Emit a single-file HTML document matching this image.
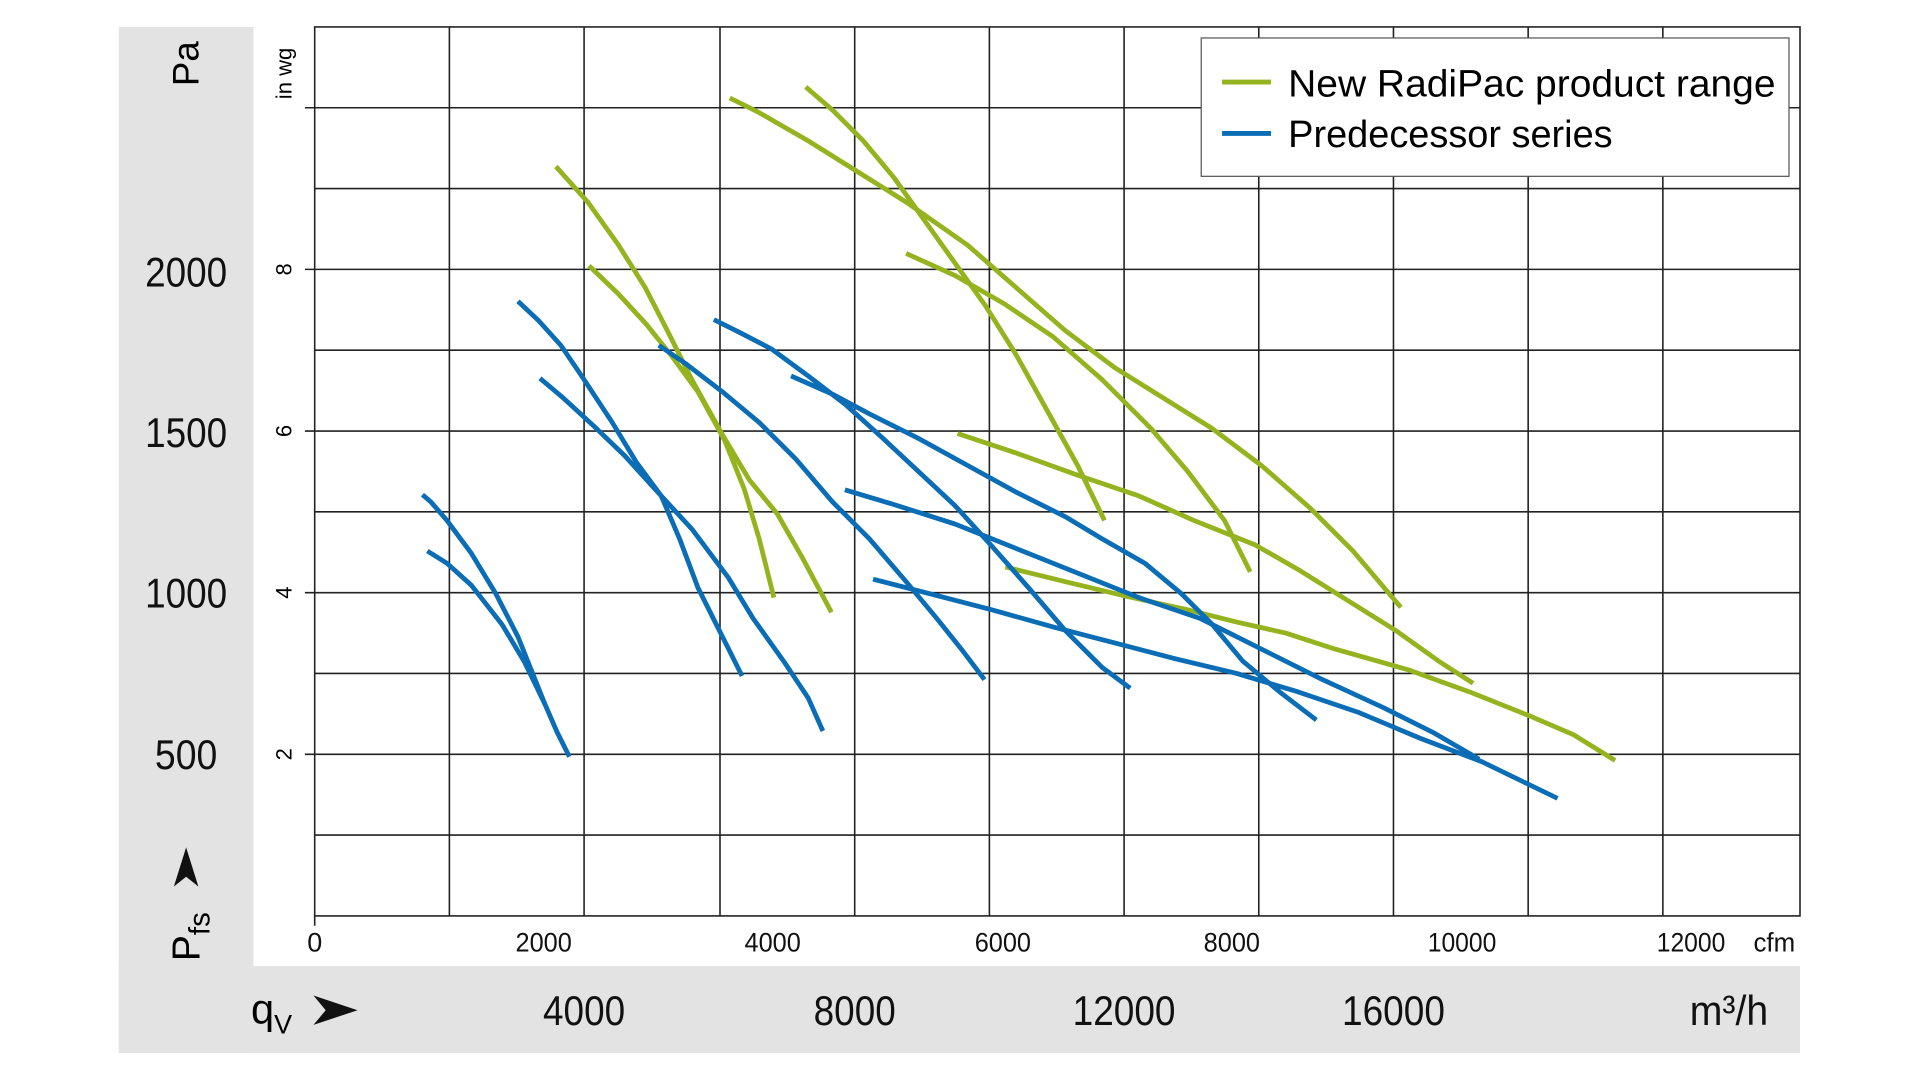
<!DOCTYPE html>
<html><head><meta charset="utf-8"><style>
html,body{margin:0;padding:0;background:#fff;width:1920px;height:1080px;overflow:hidden}
svg{display:block}
text{font-family:"Liberation Sans Narrow","Liberation Sans",sans-serif}
</style></head><body>
<svg width="1920" height="1080" viewBox="0 0 1568 882" preserveAspectRatio="none" xmlns="http://www.w3.org/2000/svg">
<rect x="97" y="22" width="110" height="838" fill="#e3e3e3"/>
<rect x="97" y="789" width="1373" height="71" fill="#e3e3e3"/>
<g stroke="#222" stroke-width="1.3" fill="none">
<rect x="257" y="22" width="1213" height="726"/>
<path d="M367 22V748M477 22V748M588 22V748M698 22V748M808 22V748M918 22V748M1028 22V748M1138 22V748M1248 22V748M1358 22V748"/>
<path d="M257 88H1470M257 154H1470M257 220H1470M257 286H1470M257 352H1470M257 418H1470M257 484H1470M257 550H1470M257 616H1470M257 682H1470"/>
<path d="M249 88H257M249 220H257M249 352H257M249 484H257M249 616H257M257 748V756"/>
</g>
<rect x="981" y="31" width="480" height="113" fill="#fff" stroke="#555" stroke-width="1"/>
<line x1="998" y1="67" x2="1038" y2="67" stroke="#95b31e" stroke-width="4"/>
<line x1="998" y1="109" x2="1038" y2="109" stroke="#0a6db5" stroke-width="4"/>
<text x="1052" y="79" font-size="31" font-family="Liberation Sans,sans-serif" textLength="398" lengthAdjust="spacingAndGlyphs">New RadiPac product range</text>
<text x="1052" y="120" font-size="31" font-family="Liberation Sans,sans-serif" textLength="265" lengthAdjust="spacingAndGlyphs">Predecessor series</text>
<g fill="none" stroke="#95b31e" stroke-width="3.9" stroke-linejoin="round">
<polyline points="454,136 480,165 505,200 527,235 545,270 565,310 590,355 612,392 635,420 655,455 679,500"/>
<polyline points="481,217 505,240 528,265 548,290 570,320 592,360 608,400 620,440 632,488"/>
<polyline points="596,80 620,92 660,115 700,140 740,165 790,200 830,235 870,270 910,300 950,325 990,350 1030,380 1070,415 1105,450 1144,496"/>
<polyline points="658,71 680,90 705,115 730,145 755,180 780,215 805,250 830,290 855,335 880,380 902,425"/>
<polyline points="740,207 780,225 820,248 860,275 900,310 940,350 970,385 1000,425 1021,467"/>
<polyline points="782,354 830,370 880,388 930,405 975,425 1025,445 1060,465 1100,490 1140,515 1175,540 1203,558"/>
<polyline points="821,463 870,475 920,487 970,498 1010,508 1050,517 1090,530 1150,547 1200,565 1250,585 1285,600 1319,621"/>
</g>
<g fill="none" stroke="#0a6db5" stroke-width="3.9" stroke-linejoin="round">
<polyline points="345,404 352,410 365,425 385,452 405,485 423,520 435,550 445,575"/>
<polyline points="349,450 365,460 385,478 410,510 428,540 445,575 455,598 465,618"/>
<polyline points="423,246 440,262 458,282 475,307 500,345 520,378 540,405 555,440 570,480 590,520 606,552"/>
<polyline points="441,309 460,325 485,348 510,372 540,405 565,432 595,472 615,505 640,540 660,570 672,597"/>
<polyline points="538,282 560,297 590,320 620,345 650,375 680,410 710,440 740,475 765,505 785,530 804,555"/>
<polyline points="583,261 605,272 630,285 660,307 690,330 720,357 750,385 780,413 810,446 840,480 870,515 900,545 923,562"/>
<polyline points="646,307 680,322 710,338 750,358 790,380 830,402 870,422 900,440 935,460 965,485 990,510 1015,540 1045,565 1075,588"/>
<polyline points="690,400 730,412 780,428 830,448 880,468 930,488 980,505 1030,530 1080,555 1130,578 1170,598 1208,620"/>
<polyline points="713,473 760,485 810,498 860,512 910,525 960,538 1010,550 1060,565 1110,582 1160,603 1210,622 1272,652"/>
</g>
<g font-size="34" text-anchor="middle" fill="#111">
<text x="152" y="234" textLength="67" lengthAdjust="spacingAndGlyphs">2000</text>
<text x="152" y="365" textLength="67" lengthAdjust="spacingAndGlyphs">1500</text>
<text x="152" y="496" textLength="67" lengthAdjust="spacingAndGlyphs">1000</text>
<text x="152" y="628" textLength="51" lengthAdjust="spacingAndGlyphs">500</text>
<text x="477" y="837" textLength="67" lengthAdjust="spacingAndGlyphs">4000</text>
<text x="698" y="837" textLength="67" lengthAdjust="spacingAndGlyphs">8000</text>
<text x="918" y="837" textLength="84" lengthAdjust="spacingAndGlyphs">12000</text>
<text x="1138" y="837" textLength="84" lengthAdjust="spacingAndGlyphs">16000</text>
<text x="1412" y="837" textLength="64" lengthAdjust="spacingAndGlyphs">m³/h</text>
</g>
<text x="152" y="52" font-size="30" text-anchor="middle" transform="rotate(-90 152 52)" dy="10" font-family="Liberation Sans,sans-serif">Pa</text>
<text x="232" y="60" font-size="18" text-anchor="middle" transform="rotate(-90 232 60)" dy="6" font-family="Liberation Sans,sans-serif">in wg</text>
<g font-size="18" text-anchor="middle" font-family="Liberation Sans,sans-serif">
<text x="232" y="220" dy="6" transform="rotate(-90 232 220)">8</text>
<text x="232" y="352" dy="6" transform="rotate(-90 232 352)">6</text>
<text x="232" y="484" dy="6" transform="rotate(-90 232 484)">4</text>
<text x="232" y="616" dy="6" transform="rotate(-90 232 616)">2</text>
</g>
<g font-size="22" text-anchor="middle" fill="#111">
<text x="257" y="777">0</text>
<text x="444" y="777" textLength="46" lengthAdjust="spacingAndGlyphs">2000</text>
<text x="631" y="777" textLength="46" lengthAdjust="spacingAndGlyphs">4000</text>
<text x="819" y="777" textLength="46" lengthAdjust="spacingAndGlyphs">6000</text>
<text x="1006" y="777" textLength="46" lengthAdjust="spacingAndGlyphs">8000</text>
<text x="1194" y="777" textLength="56" lengthAdjust="spacingAndGlyphs">10000</text>
<text x="1381" y="777" textLength="56" lengthAdjust="spacingAndGlyphs">12000</text>
<text x="1449" y="777" textLength="34" lengthAdjust="spacingAndGlyphs">cfm</text>
</g>
<path d="M152 692 L162 724 L152 716 L142 724 Z" fill="#111"/>
<text x="0" y="0" font-size="32" font-family="Liberation Sans,sans-serif" transform="translate(163,785) rotate(-90)">P<tspan font-size="24" dy="8">fs</tspan></text>
<text x="205" y="836" font-size="34">q<tspan font-size="22" dy="8">V</tspan></text>
<path d="M256 813 L292 825 L256 837 L266 825 Z" fill="#111"/>
</svg>
</body></html>
